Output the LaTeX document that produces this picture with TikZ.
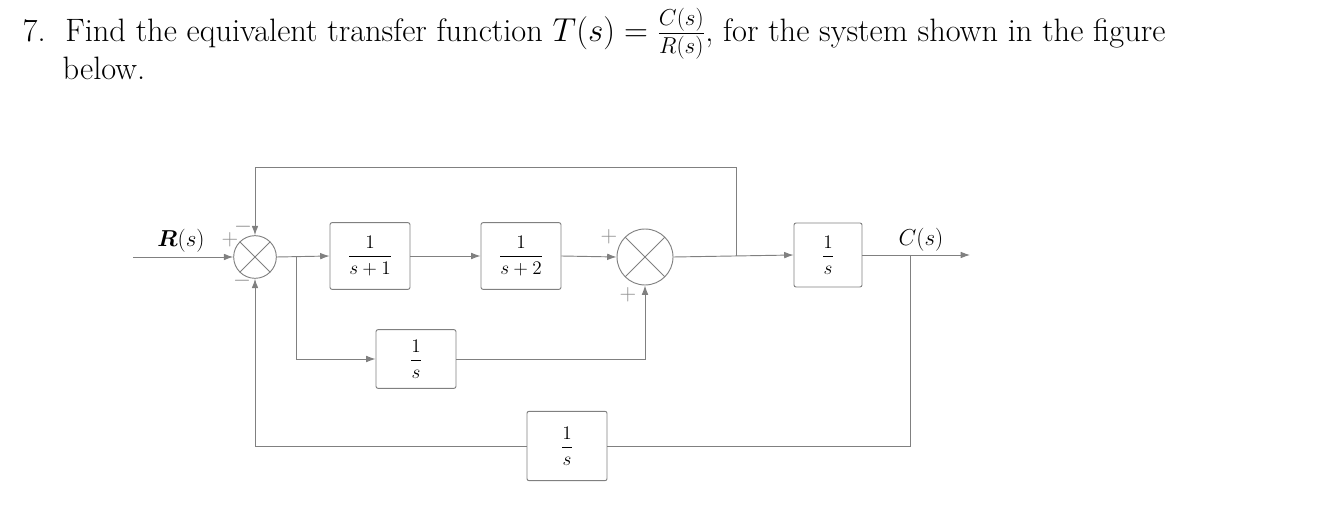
\documentclass[tikz,border=0pt]{standalone}
\usepackage{amsmath}
\usetikzlibrary{arrows.meta}
\begin{document}
\begin{tikzpicture}[x=0.75pt,y=-0.75pt,
  ln/.style={draw=black!50,line width=0.7pt},
  arr/.style={ln,-{Latex[length=7pt,width=5pt]}},
  blk/.style={draw=black!50,rounded corners=1.5pt,line width=0.7pt,minimum width=60pt,minimum height=50pt,inner sep=0pt,font=\fontsize{14}{16}\selectfont},
  sumj/.style={circle,draw=black!50,line width=0.7pt,minimum size=#1,inner sep=0pt,path picture={\draw[black!50,line width=0.6pt] (path picture bounding box.south west)--(path picture bounding box.north east) (path picture bounding box.north west)--(path picture bounding box.south east);}},
  sg/.style={text=black!45,font=\fontsize{16}{16}\selectfont}]
\useasboundingbox (0,0) rectangle (1338,505);
\node[anchor=base west,font=\fontsize{24.3}{28}\selectfont] (t1) at (18,42) {7.\ \ Find the equivalent transfer function $T(s)=\frac{C(s)}{R(s)}$, for the system shown in the figure};
\node[anchor=base west,font=\fontsize{24.3}{28}\selectfont] (t2) at (58,80) {below.};
\coordinate (in) at (133,257);
\node[sumj=32pt] (s1) at (255,257) {};
\node[blk] (b1) at (370,256) {$\dfrac{1}{s+1}$};
\node[blk] (b2) at (521,256) {$\dfrac{1}{s+2}$};
\node[sumj=42pt] (s2) at (645,257) {};
\node[blk,minimum width=51pt,minimum height=48pt] (b3) at (828,255) {$\dfrac{1}{s}$};
\node[blk,minimum height=44pt] (b4) at (416,359) {$\dfrac{1}{s}$};
\node[blk,minimum height=52pt] (b5) at (567,446) {$\dfrac{1}{s}$};
\coordinate (out) at (970,255);
\node[font=\fontsize{17}{18}\selectfont] (R) at (181,241) {$\boldsymbol{R}(s)$};
\node[font=\fontsize{17}{18}\selectfont] (C) at (921,240) {$C(s)$};
\draw[arr] (in) -- (s1);
\draw[arr] (s1.east) -- (b1.west);
\draw[arr] (b1.east) -- (b2.west);
\draw[arr] (b2.east) -- (s2.west);
\draw[arr] (s2.east) -- (b3.west);
\draw[arr] (b3.east) -- (out);
\coordinate (ta) at (736,256);
\draw[arr] (ta) -- (736,167) -- (255,167) -- (s1.north);
\coordinate (bb) at (296,257);
\draw[arr] (bb) |- (b4.west);
\draw[arr] (b4.east) -| (s2.south);
\coordinate (oc) at (910,255);
\draw[ln] (oc) |- (b5.east);
\draw[arr] (b5.west) -| (s1.south);
\node[sg] (p1) at (230,240) {$+$};
\node[sg] (m1) at (243,227) {$-$};
\node[sg] (m2) at (242,281) {$-$};
\node[sg] (p2) at (609,237) {$+$};
\node[sg] (p3) at (628,295) {$+$};
\end{tikzpicture}
\end{document}
